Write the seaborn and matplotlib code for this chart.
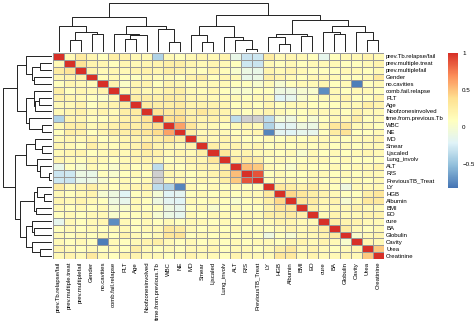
import numpy as np
import pandas as pd
import matplotlib
matplotlib.use("Agg")
import matplotlib.pyplot as plt
from matplotlib.colors import LinearSegmentedColormap
import seaborn as sns

labels = ["prev.Tb.relapse/fail", "prev.multiple.treat", "prev.multiplefail", "Gender",
          "no.cavities", "comb.fail.relapse", "PLT", "Age", "Noofzonesinvolved",
          "time.from.previous.Tb", "WBC", "NE", "MO", "Smear", "Ljscaled", "Lung_involv",
          "ALT", "R/S", "PreviousTB_Treat", "LY", "HGB", "Albumin", "BMI", "EO", "cure",
          "BA", "Globulin", "Cavity", "Urea", "Creatinine"]

nan = float("nan")
# lower triangle of the correlation matrix (row k: columns 1..k-1)
lower = [
    [],
    [0.15],
    [0.28, 0.35],
    [0.18, 0.2, 0.22],
    [0.1, 0.18, 0.15, 0.12],
    [0.25, 0.1, 0.18, 0.15, 0.2],
    [0.22, 0.18, 0.15, 0.1, 0.05, 0.15],
    [0.15, 0.15, 0.2, 0.08, 0.18, 0.2, 0.25],
    [0.15, 0.18, 0.22, 0.15, 0.2, 0.15, 0.25, 0.28],
    [-0.4, 0.2, 0.18, 0.12, 0.1, 0.18, 0.22, 0.25, 0.35],
    [0.15, 0.25, 0.25, 0.15, 0.2, 0.22, 0.28, 0.25, 0.3, 0.38],
    [0.1, 0.25, 0.22, 0.1, 0.18, 0.25, 0.25, 0.28, 0.32, 0.4, 0.62],
    [0.15, 0.18, 0.15, 0.2, 0.1, 0.15, 0.18, 0.2, 0.22, 0.25, 0.32, 0.25],
    [0.18, 0.15, 0.1, 0.25, 0.15, 0.12, 0.18, 0.2, 0.32, 0.2, 0.18, 0.15, 0.2],
    [0.15, 0.18, 0.2, 0.1, 0.15, 0.18, 0.15, 0.2, 0.25, 0.22, 0.15, 0.18, 0.15, 0.25],
    [0.2, 0.15, 0.12, 0.18, 0.15, 0.1, 0.15, 0.18, 0.2, 0.18, 0.1, 0.15, 0.2, 0.18, 0.32],
    [-0.12, 0.1, 0.02, 0.15, 0.1, 0.02, 0.15, 0.1, 0.15, -0.35, 0.15, 0.1, 0.15, 0.2, 0.18, 0.25],
    [-0.3, -0.28, -0.1, -0.12, 0.1, 0.02, 0.1, 0.15, 0.1, nan, 0.18, 0.15, 0.1, 0.15, 0.2, 0.28, 0.52],
    [-0.28, -0.3, -0.12, -0.1, 0.02, 0.1, 0.15, 0.1, 0.15, nan, 0.15, 0.18, 0.1, 0.18, 0.15, 0.25, 0.48, 0.88],
    [0.28, 0.15, 0.2, 0.25, 0.15, 0.1, 0.15, 0.18, 0.2, -0.35, -0.4, -0.75, 0.15, 0.1, 0.15, 0.1, 0.15, 0.1, 0.12],
    [0.15, 0.1, 0.15, 0.2, 0.0, -0.08, -0.2, 0.1, 0.15, -0.02, -0.2, -0.18, 0.1, 0.15, 0.1, 0.15, 0.1, 0.15, 0.15, 0.3],
    [0.18, 0.15, 0.2, 0.15, 0.1, -0.08, -0.15, 0.15, 0.1, -0.08, -0.18, -0.2, 0.15, 0.1, 0.15, 0.1, 0.02, 0.1, 0.15, 0.25, 0.42],
    [0.15, 0.1, 0.15, 0.1, 0.15, 0.0, 0.02, 0.15, 0.1, 0.1, -0.08, -0.15, 0.1, 0.15, 0.02, 0.1, 0.15, 0.1, 0.1, 0.2, 0.32, 0.32],
    [0.1, 0.15, 0.1, 0.15, 0.15, 0.02, 0.1, 0.1, 0.15, 0.0, -0.1, -0.15, 0.15, 0.1, 0.15, 0.15, 0.1, 0.15, 0.15, 0.25, 0.25, 0.28, 0.22],
    [-0.15, 0.15, 0.1, 0.15, 0.18, -0.72, 0.15, 0.1, 0.15, 0.1, 0.15, 0.1, 0.15, 0.15, 0.1, 0.15, 0.1, 0.15, 0.1, 0.15, 0.2, 0.18, 0.15, 0.15],
    [0.1, 0.15, 0.1, 0.15, 0.1, 0.15, 0.15, 0.1, 0.15, 0.15, 0.32, 0.28, 0.15, 0.1, 0.15, 0.1, 0.15, 0.1, 0.15, 0.1, 0.15, 0.2, 0.15, 0.2, 0.25],
    [0.15, 0.1, 0.15, 0.1, 0.15, 0.1, 0.2, 0.15, 0.1, 0.15, 0.32, 0.35, 0.1, 0.15, 0.1, 0.15, 0.1, 0.15, 0.1, -0.08, 0.1, 0.0, 0.15, 0.15, 0.2, 0.28],
    [0.15, 0.1, 0.15, 0.1, -0.78, 0.15, 0.1, 0.15, 0.2, 0.25, 0.15, 0.1, 0.15, 0.1, 0.15, 0.1, 0.15, 0.1, 0.15, 0.15, 0.1, 0.15, 0.2, 0.15, 0.2, 0.15, 0.02],
    [0.2, 0.15, 0.1, 0.15, 0.1, 0.15, 0.1, 0.25, 0.15, 0.1, 0.15, 0.1, 0.15, 0.15, 0.18, 0.1, 0.15, 0.15, 0.1, 0.15, 0.25, 0.3, 0.15, 0.2, 0.15, 0.1, 0.15, 0.18],
    [0.15, 0.2, 0.15, 0.3, 0.15, 0.1, 0.2, 0.2, 0.15, 0.15, 0.1, 0.15, 0.2, 0.15, 0.15, 0.1, 0.2, 0.15, 0.15, 0.15, 0.32, 0.3, 0.15, 0.2, 0.15, 0.15, 0.18, 0.15, 0.48],
]

# dendrogram merges: (child_a, child_b, height); leaves 0..29, merges numbered from 30
merges = [
    (1, 2, 37), (3, 4, 55), (30, 31, 60), (0, 32, 80),
    (6, 7, 40), (34, 8, 50), (5, 35, 55), (10, 11, 30), (9, 37, 70), (36, 38, 80),
    (33, 39, 105),
    (13, 14, 30), (12, 41, 50), (17, 18, 10), (16, 43, 37), (15, 44, 45), (42, 45, 80),
    (20, 21, 25), (19, 47, 45), (22, 23, 47), (48, 49, 55),
    (25, 26, 55), (24, 51, 60), (28, 29, 37), (27, 53, 60), (52, 54, 80),
    (50, 55, 97), (46, 56, 113), (40, 57, 147),
]

n = len(labels)
M = np.eye(n)
for i, row in enumerate(lower):
    assert len(row) == i, (i, len(row))
    for j, v in enumerate(row):
        M[i, j] = v
        M[j, i] = v
df = pd.DataFrame(M, index=labels, columns=labels)

plt.rcParams['font.family'] = ['Liberation Sans', 'DejaVu Sans']
W, H = 474, 325
fig = plt.figure(figsize=(W / 100, H / 100), dpi=100)

cmap = LinearSegmentedColormap.from_list(
    "rdylbu7", ["#4575B4", "#91BFDB", "#E0F3F8", "#FFFFBF", "#FEE090", "#FC8D59", "#D73027"])

hx0, hx1, hy0, hy1 = 53, 384, 53, 259
ax = fig.add_axes([hx0 / W, 1 - hy1 / H, (hx1 - hx0) / W, (hy1 - hy0) / H])
cax = fig.add_axes([448 / W, 1 - 188 / H, 10 / W, 135 / H])

sns.heatmap(df, ax=ax, cmap=cmap, vmin=-0.82, vmax=1,
            linewidths=0.4, linecolor="#999999", cbar_ax=cax,
            xticklabels=labels, yticklabels=labels)
ax.set_facecolor("#cfcfcf")
ax.tick_params(axis="y", left=False, right=True, labelleft=False, labelright=True,
               length=0, pad=1.5, labelsize=4.3, labelrotation=0)
ax.tick_params(axis="x", length=0, pad=2, labelsize=4.3, labelrotation=90)
ax.set_xlabel("")
ax.set_ylabel("")

cbar = ax.collections[0].colorbar
cbar.set_ticks([-0.5, 0, 0.5, 1])
cbar.set_ticklabels(["\u22120.5", "0", "0.5", "1"])
cbar.ax.tick_params(length=0, labelsize=4.5, pad=3)
cbar.outline.set_visible(False)

# dendrogram geometry
pos = {i: i + 0.5 for i in range(n)}
hgt = {i: 0.0 for i in range(n)}
segs = []
for k, (a, b, h) in enumerate(merges):
    nid = n + k
    pos[nid] = (pos[a] + pos[b]) / 2
    hgt[nid] = h
    segs.append((pos[a], hgt[a], pos[b], hgt[b], h))
root_h = merges[-1][2]

tax = fig.add_axes([hx0 / W, 1 - 52 / H, (hx1 - hx0) / W, 49 / H])
lax = fig.add_axes([3 / W, 1 - hy1 / H, 49 / W, (hy1 - hy0) / H])
for (xa, ha, xb, hb, h) in segs:
    tax.plot([xa, xa, xb, xb], [ha, h, h, hb], color="#222222", lw=0.7)
    lax.plot([ha, h, h, hb], [xa, xa, xb, xb], color="#222222", lw=0.7)
tax.set_xlim(0, n)
tax.set_ylim(0, root_h * 1.01)
tax.axis("off")
lax.set_ylim(n, 0)
lax.set_xlim(root_h * 1.01, 0)
lax.axis("off")

fig.savefig("out.png", dpi=100)
